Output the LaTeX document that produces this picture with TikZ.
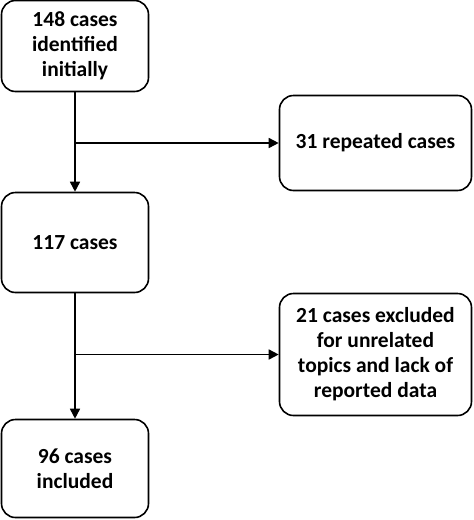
\documentclass[tikz,border=0pt]{standalone}
\usepackage{fontspec}
\setmainfont{Carlito}
\usetikzlibrary{arrows.meta}
\begin{document}
\begin{tikzpicture}
    [x=1pt,y=1pt,line width=1.6pt,
    box/.style = {draw,rounded corners=14pt,align=center,
                  font=\fontsize{21.5}{25}\selectfont\bfseries,
                  inner sep=0pt},
    flow/.style = {-{Triangle[length=10pt,width=10pt]}}]
    \useasboundingbox (0,0) rectangle (474,-520);
    % Columna principal
    \node[box,minimum width=147pt,minimum height=91pt] (ident) at (75,-46)
        {148 cases\\identified\\initially};
    \node[box,minimum width=147pt,minimum height=100pt] (mid) at (75,-242.5)
        {117 cases};
    \node[box,minimum width=147pt,minimum height=98pt] (incl) at (75,-468.5)
        {96 cases\\included};
    % Excluidos
    \node[box,minimum width=192pt,minimum height=95pt] (rep) at (375.5,-143)
        {31 repeated cases};
    \node[box,minimum width=192pt,minimum height=122pt] (excl) at (375.5,-354.5)
        {21 cases excluded\\for unrelated\\topics and lack of\\reported data};
    \coordinate (b1) at (ident.south |- rep.west);
    \coordinate (b2) at (mid.south |- excl.west);
    \draw[flow] (ident.south) -- (mid.north);
    \draw[flow] (mid.south) -- (incl.north);
    \draw[flow] (b1) -- (rep.west);
    \draw[flow] (b2) -- (excl.west);
\end{tikzpicture}
\end{document}
